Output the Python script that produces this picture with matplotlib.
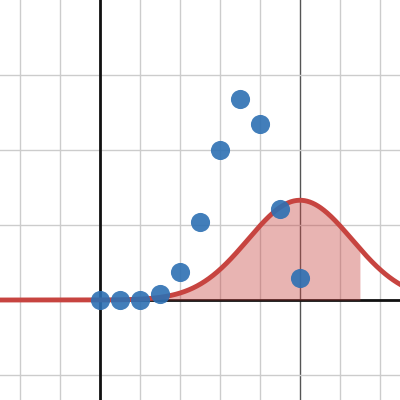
import numpy as np
import matplotlib.pyplot as plt

# scatter points (data units: x step 0.5)
PX = [0, 0.5, 1, 1.5, 2, 2.5, 3, 3.5, 4, 4.5, 5]
PY = [0, 0, 0, 0.08, 0.37, 1.04, 2.0, 2.68, 2.35, 1.21, 0.29]

# bell curve parameters
PEAK_X = 5.0
PEAK_Y = 1.33
SPREAD = 1.3
SHADE_FROM, SHADE_TO = 0.0, 6.5

BLUE = "#2d70b3"
RED = "#c74440"

fig = plt.figure(figsize=(4, 4), dpi=100)
ax = fig.add_axes([0, 0, 1, 1])
ax.set_xlim(-2.5, 7.5)
ax.set_ylim(-4 / 3, 4)
ax.axis("off")

for gx in np.arange(-2, 8, 1):
    ax.axvline(gx, color="#555555" if gx == 5 else "#cccccc",
               lw=1.0, zorder=0)
for gy in np.arange(-1, 4, 1):
    ax.axhline(gy, color="#cccccc", lw=1.0, zorder=0)
ax.axvline(0, color="#111111", lw=2, zorder=1)
ax.axhline(0, color="#111111", lw=2, zorder=1)

x = np.linspace(-2.5, 7.5, 600)
y = np.where(x > 0, PEAK_Y * np.exp(-(x - PEAK_X) ** 2 / (2 * SPREAD ** 2)), 0)
m = (x >= SHADE_FROM) & (x <= SHADE_TO)
ax.fill_between(x[m], 0, y[m], color=RED, alpha=0.4, lw=0, zorder=2)
ax.plot(x, y, color=RED, lw=3.5, zorder=3)

ax.scatter(PX, PY, s=190, color=BLUE, alpha=0.9, lw=0, zorder=4)

fig.savefig("out.png", dpi=100)
